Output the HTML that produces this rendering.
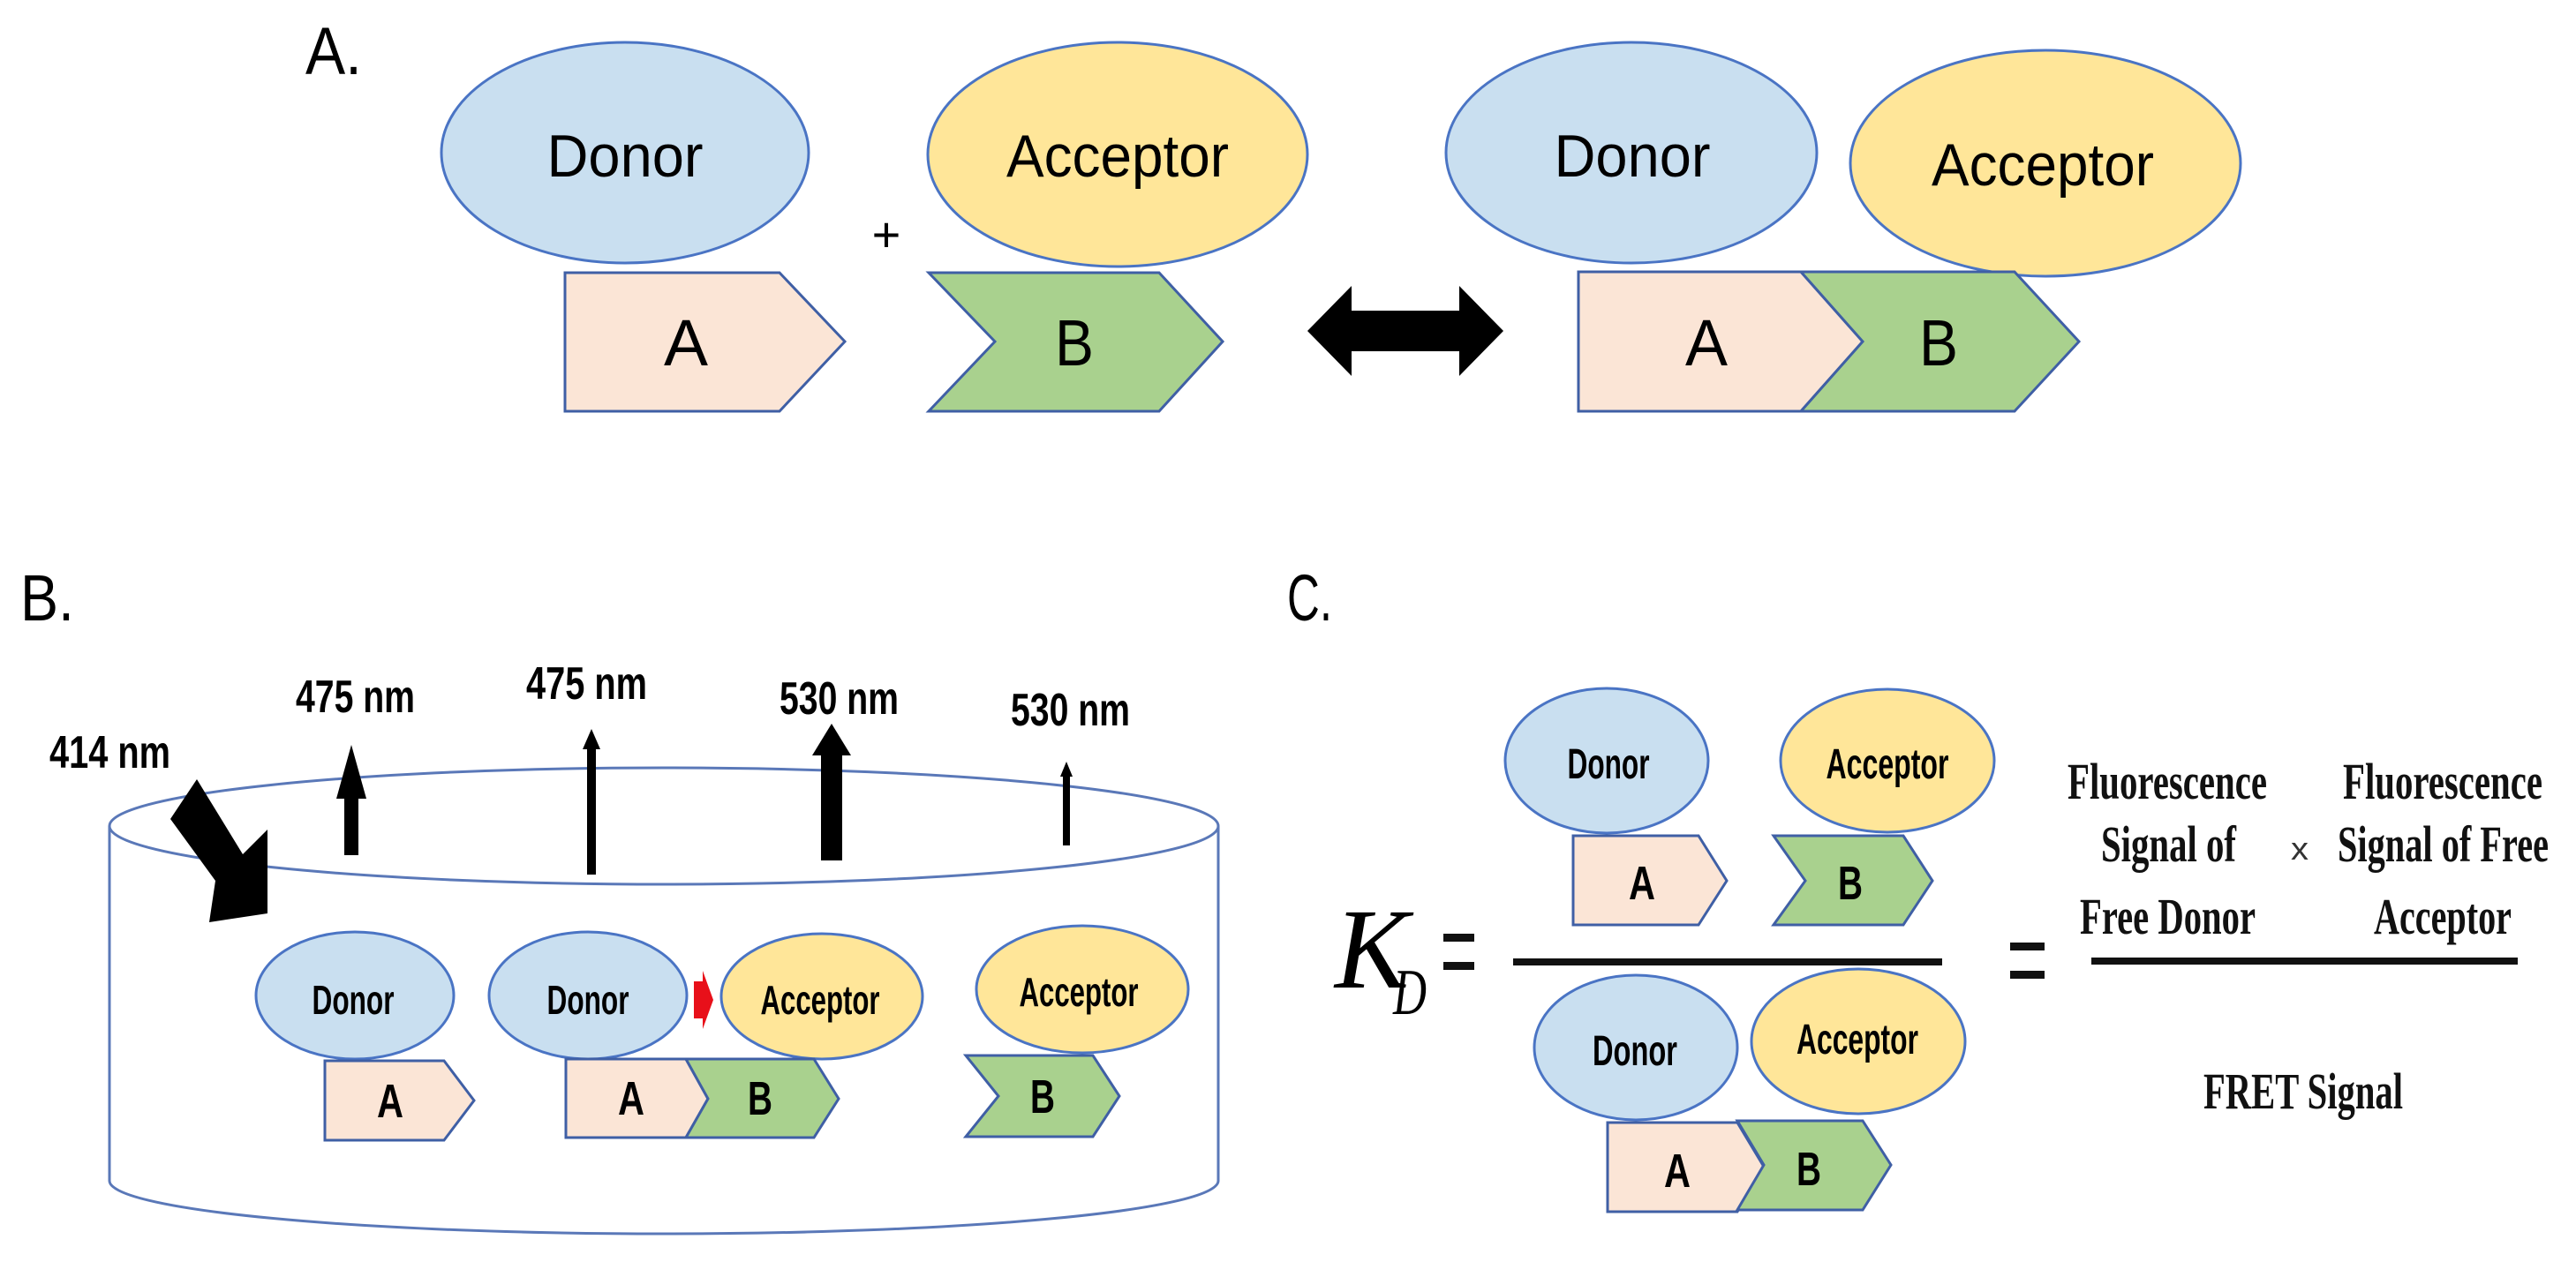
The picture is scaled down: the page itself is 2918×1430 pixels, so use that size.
<!DOCTYPE html>
<html><head><meta charset="utf-8"><style>html,body{margin:0;padding:0;background:#fff}svg{display:block}</style></head>
<body>
<svg width="2918" height="1430" viewBox="0 0 2918 1430" xmlns="http://www.w3.org/2000/svg">
<defs>
<style>
.s{font-family:"Liberation Sans",sans-serif;fill:#000}
.r{font-family:"Liberation Serif",serif;font-weight:bold;fill:#111}
.d{fill:#c9dff0;stroke:#4a74c4;stroke-width:3}
.a{fill:#ffe699;stroke:#4a74c4;stroke-width:3}
.pa{fill:#fbe5d6;stroke:#3f5fa5;stroke-width:3}
.pb{fill:#a9d18e;stroke:#3f5fa5;stroke-width:3}
</style>
</defs>

<!-- Panel labels -->
<text class="s" x="346" y="84" font-size="76" textLength="64" lengthAdjust="spacingAndGlyphs">A.</text>
<text class="s" x="23" y="703" font-size="74" textLength="61" lengthAdjust="spacingAndGlyphs">B.</text>
<text class="s" x="1458" y="703" font-size="74" textLength="51" lengthAdjust="spacingAndGlyphs">C.</text>

<!-- Panel A -->
<ellipse class="d" cx="708" cy="173" rx="208" ry="125"/>
<ellipse class="a" cx="1266" cy="175" rx="215" ry="127"/>
<text class="s" x="708" y="200" font-size="68" text-anchor="middle" textLength="177" lengthAdjust="spacingAndGlyphs">Donor</text>
<text class="s" x="1266" y="200" font-size="68" text-anchor="middle" textLength="252" lengthAdjust="spacingAndGlyphs">Acceptor</text>
<text class="s" x="1004" y="285" font-size="56" text-anchor="middle">+</text>
<polygon class="pa" points="640,309 883,309 957,387 883,466 640,466"/>
<polygon class="pb" points="1052,309 1313,309 1385,387 1313,466 1052,466 1127,387"/>
<text class="s" x="777" y="414" font-size="74" text-anchor="middle" textLength="50" lengthAdjust="spacingAndGlyphs">A</text>
<text class="s" x="1217" y="414" font-size="74" text-anchor="middle" textLength="44" lengthAdjust="spacingAndGlyphs">B</text>
<polygon fill="#000" points="1481,375 1531,324 1531,352 1653,352 1653,324 1703,375 1653,426 1653,398 1531,398 1531,426"/>
<ellipse class="d" cx="1848" cy="173" rx="210" ry="125"/>
<ellipse class="a" cx="2317" cy="185" rx="221" ry="128"/>
<text class="s" x="1849" y="200" font-size="68" text-anchor="middle" textLength="177" lengthAdjust="spacingAndGlyphs">Donor</text>
<text class="s" x="2314" y="210" font-size="68" text-anchor="middle" textLength="252" lengthAdjust="spacingAndGlyphs">Acceptor</text>
<polygon class="pa" points="1788,308 2040,308 2110,387 2040,466 1788,466"/>
<polygon class="pb" points="2040,308 2282,308 2355,387 2282,466 2040,466 2110,387"/>
<text class="s" x="1933" y="414" font-size="74" text-anchor="middle" textLength="48" lengthAdjust="spacingAndGlyphs">A</text>
<text class="s" x="2196" y="414" font-size="74" text-anchor="middle" textLength="44" lengthAdjust="spacingAndGlyphs">B</text>

<!-- Panel B: cylinder -->
<path d="M124,936 L124,1338 A628,60 0 0 0 1380,1338 L1380,936" fill="none" stroke="#5a78b8" stroke-width="3"/>
<ellipse cx="752" cy="936" rx="628" ry="66" fill="none" stroke="#5a78b8" stroke-width="3"/>

<!-- wavelength labels -->
<text class="s" x="56" y="870" font-size="52" font-weight="bold" textLength="137" lengthAdjust="spacingAndGlyphs">414 nm</text>
<text class="s" x="335" y="807" font-size="52" font-weight="bold" textLength="135" lengthAdjust="spacingAndGlyphs">475 nm</text>
<text class="s" x="596" y="792" font-size="52" font-weight="bold" textLength="137" lengthAdjust="spacingAndGlyphs">475 nm</text>
<text class="s" x="883" y="809" font-size="52" font-weight="bold" textLength="135" lengthAdjust="spacingAndGlyphs">530 nm</text>
<text class="s" x="1145" y="822" font-size="52" font-weight="bold" textLength="135" lengthAdjust="spacingAndGlyphs">530 nm</text>

<!-- arrows -->
<polygon fill="#000" points="223,883 193,928 244,998 237,1045 303,1035 303,940 275,968"/>
<polygon fill="#000" points="398,844 415,905 406,905 406,969 390,969 390,905 381,905"/>
<polygon fill="#000" points="670,826 680,849 675,849 675,991 665,991 665,849 660,849"/>
<polygon fill="#000" points="942,820 964,856 954,856 954,975 930,975 930,856 920,856"/>
<polygon fill="#000" points="1208,863 1215,880 1212,880 1212,958 1204,958 1204,880 1201,880"/>

<!-- molecules B -->
<ellipse class="d" cx="402" cy="1128" rx="112" ry="72" stroke-width="2.5"/>
<ellipse class="d" cx="666" cy="1128" rx="112" ry="72" stroke-width="2.5"/>
<ellipse class="a" cx="931" cy="1129" rx="114" ry="71" stroke-width="2.5"/>
<ellipse class="a" cx="1226" cy="1121" rx="120" ry="72" stroke-width="2.5"/>
<polygon fill="#e8101a" points="786,1112 796,1112 796,1100 808,1133 796,1166 796,1154 786,1154"/>
<text class="s" x="400" y="1149" font-size="46" font-weight="bold" text-anchor="middle" textLength="93" lengthAdjust="spacingAndGlyphs" fill="#222">Donor</text>
<text class="s" x="666" y="1149" font-size="46" font-weight="bold" text-anchor="middle" textLength="93" lengthAdjust="spacingAndGlyphs">Donor</text>
<text class="s" x="929" y="1149" font-size="46" font-weight="bold" text-anchor="middle" textLength="135" lengthAdjust="spacingAndGlyphs">Acceptor</text>
<text class="s" x="1222" y="1140" font-size="46" font-weight="bold" text-anchor="middle" textLength="135" lengthAdjust="spacingAndGlyphs">Acceptor</text>
<polygon class="pa" stroke-width="2.5" points="368,1202 503,1202 537,1247 503,1292 368,1292"/>
<polygon class="pa" stroke-width="2.5" points="641,1200 777,1200 802,1245 777,1289 641,1289"/>
<polygon class="pb" stroke-width="2.5" points="777,1200 922,1200 950,1245 922,1289 777,1289 802,1245"/>
<polygon class="pb" stroke-width="2.5" points="1094,1196 1238,1196 1268,1242 1238,1288 1094,1288 1131,1242"/>
<text class="s" x="442" y="1266" font-size="54" font-weight="bold" text-anchor="middle" textLength="30" lengthAdjust="spacingAndGlyphs">A</text>
<text class="s" x="715" y="1263" font-size="54" font-weight="bold" text-anchor="middle" textLength="30" lengthAdjust="spacingAndGlyphs">A</text>
<text class="s" x="861" y="1263" font-size="54" font-weight="bold" text-anchor="middle" textLength="28" lengthAdjust="spacingAndGlyphs">B</text>
<text class="s" x="1181" y="1261" font-size="54" font-weight="bold" text-anchor="middle" textLength="28" lengthAdjust="spacingAndGlyphs">B</text>

<!-- Panel C -->
<text x="1512" y="1119" font-family="Liberation Serif,serif" font-style="italic" font-size="130" textLength="84" lengthAdjust="spacingAndGlyphs">K</text>
<text x="1578" y="1149" font-family="Liberation Serif,serif" font-style="italic" font-size="74" textLength="38" lengthAdjust="spacingAndGlyphs">D</text>
<rect x="1635" y="1058" width="35" height="9" fill="#111"/>
<rect x="1635" y="1090" width="35" height="9" fill="#111"/>
<rect x="1714" y="1086" width="486" height="8" fill="#111"/>
<rect x="2277" y="1068" width="39" height="9" fill="#111"/>
<rect x="2277" y="1100" width="39" height="9" fill="#111"/>
<rect x="2369" y="1085" width="483" height="8" fill="#111"/>

<ellipse class="d" cx="1820" cy="862" rx="115" ry="82" stroke-width="2.5"/>
<ellipse class="a" cx="2138" cy="862" rx="121" ry="81" stroke-width="2.5"/>
<text class="s" x="1822" y="882" font-size="48" font-weight="bold" text-anchor="middle" textLength="93" lengthAdjust="spacingAndGlyphs">Donor</text>
<text class="s" x="2138" y="882" font-size="48" font-weight="bold" text-anchor="middle" textLength="139" lengthAdjust="spacingAndGlyphs">Acceptor</text>
<polygon class="pa" stroke-width="2.5" points="1782,947 1924,947 1956,998 1924,1048 1782,1048"/>
<polygon class="pb" stroke-width="2.5" points="2009,947 2156,947 2189,998 2156,1048 2009,1048 2045,998"/>
<text class="s" x="1860" y="1019" font-size="54" font-weight="bold" text-anchor="middle" textLength="30" lengthAdjust="spacingAndGlyphs">A</text>
<text class="s" x="2096" y="1019" font-size="54" font-weight="bold" text-anchor="middle" textLength="28" lengthAdjust="spacingAndGlyphs">B</text>

<ellipse class="d" cx="1853" cy="1187" rx="115" ry="82" stroke-width="2.5"/>
<ellipse class="a" cx="2105" cy="1180" rx="121" ry="82" stroke-width="2.5"/>
<text class="s" x="1852" y="1207" font-size="48" font-weight="bold" text-anchor="middle" textLength="96" lengthAdjust="spacingAndGlyphs">Donor</text>
<text class="s" x="2104" y="1194" font-size="48" font-weight="bold" text-anchor="middle" textLength="138" lengthAdjust="spacingAndGlyphs">Acceptor</text>
<polygon class="pa" stroke-width="2.5" points="1821,1272 1968,1272 1998,1322 1968,1373 1821,1373"/>
<polygon class="pb" stroke-width="2.5" points="1968,1270 2110,1270 2142,1320 2110,1371 1968,1371 1998,1320"/>
<text class="s" x="1900" y="1345" font-size="54" font-weight="bold" text-anchor="middle" textLength="30" lengthAdjust="spacingAndGlyphs">A</text>
<text class="s" x="2049" y="1343" font-size="54" font-weight="bold" text-anchor="middle" textLength="28" lengthAdjust="spacingAndGlyphs">B</text>

<text class="r" x="2342" y="905" font-size="58" textLength="226" lengthAdjust="spacingAndGlyphs">Fluorescence</text>
<text class="r" x="2380" y="976" font-size="58" textLength="153" lengthAdjust="spacingAndGlyphs">Signal of</text>
<text class="r" x="2356" y="1058" font-size="58" textLength="199" lengthAdjust="spacingAndGlyphs">Free Donor</text>
<text x="2605" y="974" font-family="Liberation Sans,sans-serif" font-size="36" text-anchor="middle" fill="#333" textLength="20" lengthAdjust="spacingAndGlyphs">x</text>
<text class="r" x="2654" y="905" font-size="58" textLength="226" lengthAdjust="spacingAndGlyphs">Fluorescence</text>
<text class="r" x="2648" y="976" font-size="58" textLength="239" lengthAdjust="spacingAndGlyphs">Signal of Free</text>
<text class="r" x="2689" y="1058" font-size="58" textLength="156" lengthAdjust="spacingAndGlyphs">Acceptor</text>
<text class="r" x="2496" y="1256" font-size="58" textLength="226" lengthAdjust="spacingAndGlyphs">FRET Signal</text>
</svg>
</body></html>
